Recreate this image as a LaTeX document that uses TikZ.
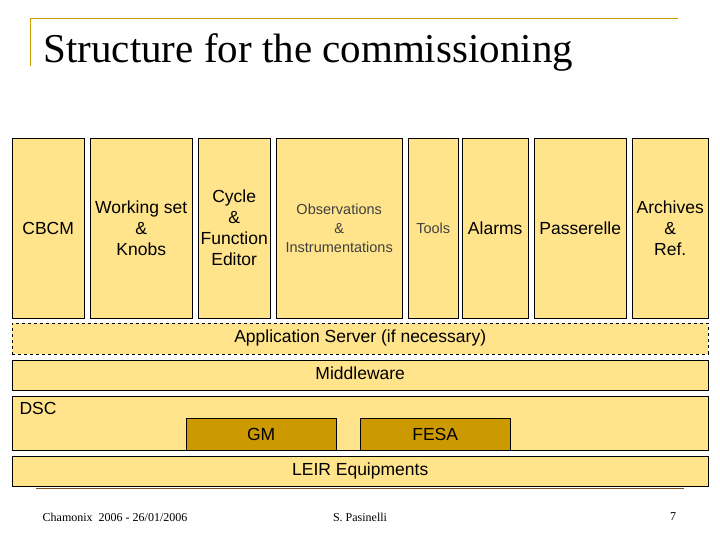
\documentclass[tikz,border=0pt]{standalone}
\usepackage{fontspec}
\setmainfont{Liberation Serif}
\newfontfamily\arialfont{Liberation Sans}
\definecolor{boxfill}{RGB}{255,228,140}
\definecolor{darkfill}{RGB}{204,153,0}
\definecolor{goldline}{RGB}{204,160,0}
\definecolor{brownline}{RGB}{128,80,40}
\begin{document}
\begin{tikzpicture}[x=1pt, y=-1pt]
    \tikzstyle{block} = [draw, fill=boxfill, anchor=north west, inner sep=1pt,
	align=center, font=\arialfont\fontsize{17.5}{21}\selectfont]
    \tikzstyle{thin block} = [block, font=\arialfont\fontsize{14.5}{19}\selectfont, text=black!75]
    \tikzstyle{layer} = [block, minimum width=696pt, minimum height=30pt]

	\useasboundingbox (0,0) rectangle (720,540);

	% title
	\draw[goldline, thick] (30,66) -- (30,18) -- (678,18);
	\node[anchor=west, font=\fontsize{41}{44}\selectfont] (title) at (40,52) {Structure for the commissioning};

	% top row
	\path
		node[block, minimum width=72pt, minimum height=180pt] (cbcm) at (12,138) {CBCM}
		node[block, minimum width=102pt, minimum height=180pt] (wset) at (90,138) {Working set\\\&\\Knobs}
		node[block, minimum width=72pt, minimum height=180pt] (cycle) at (198,138) {Cycle\\\&\\Function\\Editor}
		node[thin block, minimum width=126pt, minimum height=180pt] (obs) at (276,138) {Observations\\\&\\Instrumentations}
		node[thin block, minimum width=50pt, minimum height=180pt] (tools) at (408,138) {Tools}
		node[block, minimum width=66pt, minimum height=180pt] (alarms) at (462,138) {Alarms}
		node[block, minimum width=92pt, minimum height=180pt] (pass) at (534,138) {Passerelle}
		node[block, minimum width=76pt, minimum height=180pt] (arch) at (632,138) {Archives\\\&\\Ref.}
	;

	% layers
	\node[layer, dashed, minimum height=31pt] (appsrv) at (12,323) {\strut Application Server (if necessary)};
	\node[layer] (mware) at (12,360) {\strut Middleware};
	\node[layer, minimum height=54pt] (dsc) at (12,396) {};
	\node[anchor=north west, font=\arialfont\fontsize{17.5}{19}\selectfont] (dsclabel) at (16,399) {DSC};
	\node[block, fill=darkfill, minimum width=150pt, minimum height=32pt] (gm) at (186,418) {GM};
	\node[block, fill=darkfill, minimum width=150pt, minimum height=32pt] (fesa) at (360,418) {FESA};
	\node[layer] (leir) at (12,456) {\strut LEIR Equipments};
	\draw[brownline, thick] (leir.south west) ++(24,2) -- ++(648,0);

	% footer
	\path[font=\fontsize{12}{14}\selectfont]
		node (date) at (115,517) {Chamonix\ \ 2006 - 26/01/2006}
		node (author) at (360,517) {S. Pasinelli}
		node (page) at (673,517) {7}
	;
\end{tikzpicture}
\end{document}
